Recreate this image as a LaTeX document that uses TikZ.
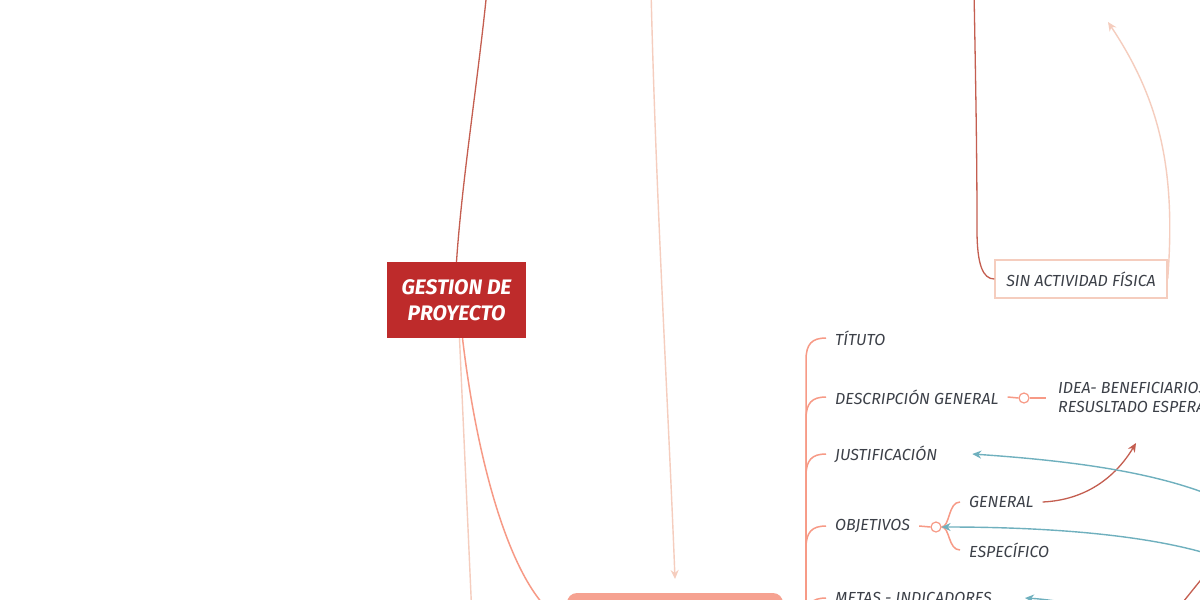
\documentclass[tikz,border=0pt]{standalone}
\usepackage{fontspec}
\setmainfont{Fira Sans}
\usetikzlibrary{arrows.meta}
\definecolor{dred}{HTML}{BE2B2B}
\definecolor{brick}{HTML}{C45E50}
\definecolor{peach}{HTML}{F5CDBE}
\definecolor{salmon}{HTML}{F79A86}
\definecolor{salmonfill}{HTML}{F6A291}
\definecolor{tealc}{HTML}{6FB0BE}
\definecolor{txt}{HTML}{3C4048}
\tikzset{
  central/.style={fill=dred, text=white, minimum width=139pt, minimum height=76pt, align=center,
    font=\fontsize{21}{26}\selectfont\bfseries\itshape, inner sep=0pt},
  framebox/.style={draw=peach, line width=1.4pt, fill=white, minimum width=172pt, minimum height=38pt,
    text=txt, font=\fontsize{16}{18}\selectfont\itshape, inner sep=0pt},
  topicbox/.style={fill=salmonfill, rounded corners=10pt, minimum width=216pt, minimum height=60pt},
  lbl/.style={anchor=west, text=txt, font=\fontsize{16}{18}\selectfont\itshape, inner xsep=9pt, inner ysep=2pt},
  lbl2/.style={anchor=west, text=txt, font=\fontsize{16}{19}\selectfont\itshape, align=left, inner sep=0pt},
  hub/.style={circle, draw=salmon, line width=1.2pt, fill=white, minimum size=10pt, inner sep=0pt},
  brickline/.style={draw=brick, line width=1.3pt},
  peachline/.style={draw=peach, line width=1.4pt},
  salmonline/.style={draw=salmon, line width=1.5pt},
  tealline/.style={draw=tealc, line width=1.4pt},
  tip/.style={-{Stealth[length=9pt,width=8pt]}},
}
\begin{document}
\begin{tikzpicture}[x=1pt,y=-1pt]
\useasboundingbox (0,0) rectangle (1200,600);
\clip (0,0) rectangle (1200,600);
\fill[white] (0,0) rectangle (1200,600);

% off-canvas coordinates
\coordinate (t1) at (487,-10);
\coordinate (t2) at (651,-10);
\coordinate (t3) at (974,-10);
\coordinate (up) at (1108,22);
\coordinate (s1) at (1215,497);
\coordinate (s2) at (1215,556);
\coordinate (s3) at (1215,650);
\coordinate (rb1) at (1175,612);
\coordinate (rb2) at (1212,566);
\coordinate (low) at (473,640);
\coordinate (gtip) at (1136,443);

% nodes
\node[central] (gp) at (456.5,300) {GESTION DE\\PROYECTO};
\node[framebox] (sin) at (1081,279) {SIN ACTIVIDAD FÍSICA};
\node[topicbox] (pl) at (675,623) {};

\node[lbl] (tit) at (826,338) {TÍTUTO};
\node[lbl] (des) at (826,397) {DESCRIPCIÓN GENERAL};
\node[lbl] (jus) at (826,454) {JUSTIFICACIÓN};
\node[lbl] (obj) at (826,526) {OBJETIVOS};
\node[lbl] (met) at (826,598) {METAS - INDICADORES};

\node[hub] (h1) at (1024,398) {};
\node[lbl2] (idea) at (1058,397) {IDEA- BENEFICIARIOS-\\RESUSLTADO ESPERADO};
\coordinate (h1r) at (1046,398);

\node[hub] (h2) at (936,527) {};
\node[lbl] (gen) at (960,502) {GENERAL};
\node[lbl] (esp) at (960,550) {ESPECÍFICO};

% connectors
\draw[brickline] (t1) .. controls (478,80) and (462,180) .. (gp.north);
\draw[peachline, tip] (t2) .. controls (656,200) and (668,400) .. (675,579);
\draw[brickline] (t3) .. controls (976,100) and (977,160) .. (977,230)
   .. controls (977,265) and (983,279) .. (sin.west);
\draw[peachline, tip] (sin.east) .. controls (1176,170) and (1160,100) .. (up);

\draw[peachline] (gp.south) ++(3,0) -- (low);
\draw[salmonline] (gp.south) ++(6,0) .. controls (478,470) and (515,600) .. (pl.west);

\foreach \n/\y in {tit/338,des/397,jus/454,obj/526,met/598}{
  \draw[salmonline] (pl.east) .. controls (800,623) and (806,615) .. (806,600)
     -- (806,\y+22) .. controls (806,\y+6) and (812,\y) .. (\n.west);
}

\draw[salmonline] (des.east) -- (h1.west);
\draw[salmonline] (h1.east) -- (h1r);
\draw[salmonline] (obj.east) -- (h2.west);
\draw[salmonline] (h2.east) .. controls (950,527) and (948,502) .. (gen.west);
\draw[salmonline] (h2.east) .. controls (950,527) and (948,550) .. (esp.west);

\draw[brickline, tip] (gen.east) .. controls (1085,500) and (1115,478) .. (gtip);
\draw[brickline] (rb1) -- (rb2);

\draw[tealline, tip] (s1) .. controls (1150,470) and (1060,460) .. ([xshift=26pt]jus.east);
\draw[tealline, tip] (s2) .. controls (1150,535) and (1050,527) .. (h2.east);
\draw[tealline, tip] (s3) .. controls (1120,610) and (1060,600) .. ([xshift=24pt]met.east);
\end{tikzpicture}
\end{document}
